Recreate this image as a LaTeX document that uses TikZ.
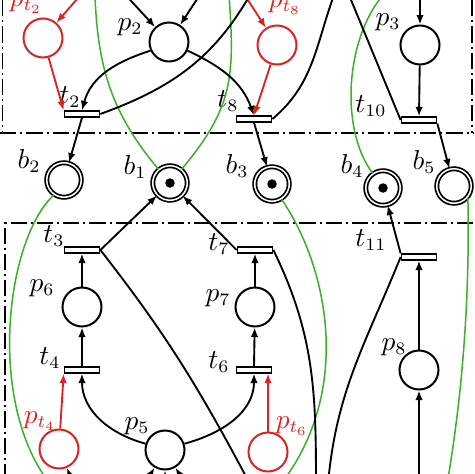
\documentclass[tikz,border=0pt]{standalone}
\usetikzlibrary{arrows.meta}
\definecolor{netred}{RGB}{218,35,35}
\definecolor{netgreen}{RGB}{60,175,40}
\begin{document}
\begin{tikzpicture}[x=0.4pt,y=0.4pt,
  place/.style={circle,draw,line width=0.8pt,minimum size=15.6pt,inner sep=0pt},
  ctrlplace/.style={place,draw=netred},
  buffer/.style={circle,draw,double,double distance=0.6pt,line width=0.7pt,minimum size=13.8pt,inner sep=0pt},
  token/.style={circle,fill,inner sep=0pt,minimum size=3.8pt},
  trans/.style={rectangle,draw,fill=white,line width=0.7pt,minimum width=14pt,minimum height=2.2pt,inner sep=0pt},
  arc/.style={line width=0.75pt,-{Latex[length=3.8pt,width=3pt]}},
  ctrlarc/.style={arc,draw=netred},
  link/.style={line width=0.75pt},
  region/.style={line width=0.75pt,dash pattern=on 6.5pt off 1.6pt on 0.8pt off 1.6pt},
  guide/.style={draw=netgreen,line width=0.6pt},
  lab/.style={inner sep=0pt,font=\fontsize{10.6}{12}\selectfont},
  ctrllab/.style={lab,text=netred}]

\clip (0,0) rectangle (474,-474);

% subnet boundaries
\draw[region] (0,-133) -- (474,-133);
\draw[region] (2.5,0) -- (2.5,-133);
\draw[region] (472,0) -- (472,-133);
\draw[region] (5,-480) -- (5,-223) -- (474,-223);

% places
\node[ctrlplace] (pt2) at (43,-38) {};
\node[place] (p2) at (169,-42) {};
\node[ctrlplace] (pt8) at (277,-45) {};
\node[place] (p3) at (420,-45) {};
\node[place] (p6) at (82,-307) {};
\node[place] (p7) at (255,-307) {};
\node[place] (p8) at (419,-370) {};
\node[place] (p5) at (165,-450) {};
\node[ctrlplace] (pt4) at (59,-449) {};
\node[ctrlplace] (pt6) at (268,-452) {};

% buffers
\node[buffer] (b2) at (64,-180) {};
\node[buffer] (b1) at (170,-183) {};
\node[buffer] (b3) at (272,-184) {};
\node[buffer] (b4) at (383,-188) {};
\node[buffer] (b5) at (454,-186) {};
\node[token] at (b1) {};
\node[token] at (b3) {};
\node[token] at (b4) {};

% transitions
\node[trans] (t2) at (82,-114) {};
\node[trans] (t8) at (254,-119) {};
\node[trans] (t10) at (419,-120) {};
\node[trans] (t3) at (82,-250) {};
\node[trans] (t7) at (255,-250) {};
\node[trans] (t11) at (419,-257) {};
\node[trans] (t4) at (82,-370) {};
\node[trans] (t6) at (254,-370) {};

% labels
\node[ctrllab] at (26,-4) {$p_{t_2}$};
\node[lab] at (130,-27) {$p_2$};
\node[ctrllab] at (285,-5) {$p_{t_8}$};
\node[lab] at (388,-22) {$p_3$};
\node[lab] at (70,-97) {$t_2$};
\node[lab] at (228,-101) {$t_8$};
\node[lab] at (371,-106) {$t_{10}$};
\node[lab] at (29,-161) {$b_2$};
\node[lab] at (135,-167) {$b_1$};
\node[lab] at (237,-166) {$b_3$};
\node[lab] at (352,-166) {$b_4$};
\node[lab] at (424,-162) {$b_5$};
\node[lab] at (54,-236) {$t_3$};
\node[lab] at (219,-244) {$t_7$};
\node[lab] at (371,-240) {$t_{11}$};
\node[lab] at (42,-288) {$p_6$};
\node[lab] at (218,-298) {$p_7$};
\node[lab] at (394,-347) {$p_8$};
\node[lab] at (50,-358) {$t_4$};
\node[lab] at (219,-362) {$t_6$};
\node[lab] at (137,-426) {$p_5$};
\node[ctrllab] at (40,-421) {$p_{t_4}$};
\node[ctrllab] at (292,-426) {$p_{t_6}$};

% free ends leaving the drawn part of the net
\coordinate (inpt2) at (85,10);
\coordinate (inp2a) at (121,10);
\coordinate (inp2b) at (203,10);
\coordinate (inpt8) at (244,6);
\coordinate (inp3) at (420,10);
\coordinate (outt2) at (250,5);
\coordinate (outt8) at (334,5);
\coordinate (outt10) at (349,5);
\coordinate (inp8) at (419,-490);
\coordinate (inpt4) at (76,-490);
\coordinate (inp5a) at (140,-492);
\coordinate (inp5b) at (165,-492);
\coordinate (inp5c) at (190,-492);
\coordinate (outt3) at (250,-484);
\coordinate (outt7) at (316,-484);
\coordinate (outt11) at (328,-484);

% green guide curves
\draw[guide] (95,5) to[out=-88,in=130] (b1.130);
\draw[guide] (229,5) to[out=-86,in=50,looseness=1.15] (b1.50);
\draw[guide] (b2.236) .. controls (5,-240) and (-15,-410) .. (55,-490);
\draw[guide] (b3.-58) .. controls (330,-270) and (355,-400) .. (272,-495);
\draw[guide] (383,5) .. controls (345,-40) and (340,-130) .. (b4.125);
\draw[guide] (b5.-40) .. controls (470,-300) and (462,-400) .. (446,-490);

% upper subnet
\draw[ctrlarc] (inpt2) -- (pt2);
\draw[arc] (inp2a) -- (p2);
\draw[arc] (inp2b) -- (p2);
\draw[ctrlarc] (inpt8) -- (pt8);
\draw[arc] (inp3) -- (p3);
\draw[ctrlarc] (pt2) -- (t2.north west);
\draw[arc] (p2.205) to[out=198,in=75] (t2.north);
\draw[link] (t2.east) to[out=20,in=-120] (outt2);
\draw[arc] (t2.south) -- (b2);
\draw[arc] (p2.-25) to[out=-25,in=110] (t8.north);
\draw[ctrlarc] (pt8) -- (t8.north);
\draw[arc] (t8.south) -- (b3);
\draw[link] (t8.east) to[out=40,in=-110] (outt8);
\draw[link] (t10.west) -- (outt10);
\draw[arc] (p3) -- (t10.north);
\draw[arc] (t10.south east) -- (b5);

% lower subnet
\draw[arc] (t3.east) -- (b1);
\draw[arc] (t7.west) -- (b1);
\draw[arc] (t11.north west) -- (b4);
\draw[arc] (p6) -- (t3.south);
\draw[arc] (t4.north) -- (p6);
\draw[arc] (p7) -- (t7.south);
\draw[arc] (t6.north) -- (p7);
\draw[arc] (p8) -- (t11.south);
\draw[arc] (inp8) -- (p8);
\draw[ctrlarc] (pt4) -- (t4.south west);
\draw[arc] (p5.162) to[out=165,in=-90] (t4.south);
\draw[arc] (p5.18) to[out=15,in=-90] (t6.south);
\draw[ctrlarc] (pt6.north) -- (pt6.north |- t6.south);
\draw[link] (t3.east) to[out=-52,in=118] (outt3);
\draw[link] (t7.east) to[out=-64,in=90] (outt7);
\draw[link] (t11.west) to[out=-112,in=85] (outt11);
\draw[arc] (inpt4) -- (pt4);
\draw[arc] (inp5a) -- (p5);
\draw[arc] (inp5b) -- (p5);
\draw[arc] (inp5c) -- (p5);
\end{tikzpicture}
\end{document}
